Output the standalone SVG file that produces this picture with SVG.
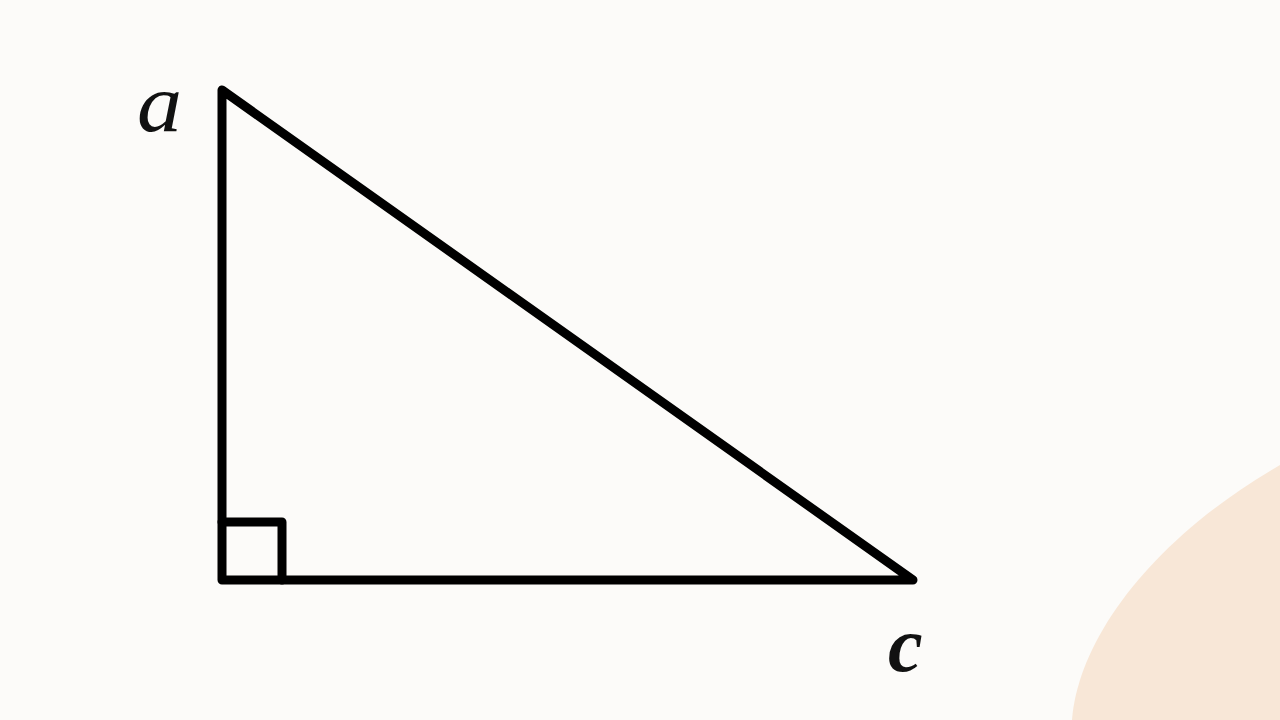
<svg xmlns="http://www.w3.org/2000/svg" width="1280" height="720" viewBox="0 0 1280 720">
<style>
.ln{fill:none;stroke:#000;stroke-width:9;stroke-linejoin:round;stroke-linecap:round}
.lbl{font-family:"Liberation Serif","DejaVu Serif",serif;font-style:italic;fill:#111}
</style>
<rect width="1280" height="720" fill="#fcfbf9"/>
<path d="M1072,720 C1078,640 1150,540 1280,465 L1280,720 Z" fill="#f8e7d7"/>
<g id="triangle">
<path class="ln" d="M222,90 L222,580 L913,580 Z"/>
<path class="ln" d="M222,522 L282,522 L282,580"/>
</g>
<g id="label-a"><text class="lbl" x="137" y="131" font-size="82" transform="translate(137 0) scale(1.1 1) translate(-137 0)">a</text></g>
<g id="label-c"><text class="lbl" x="888" y="671" font-size="78" font-weight="bold">c</text></g>
</svg>
